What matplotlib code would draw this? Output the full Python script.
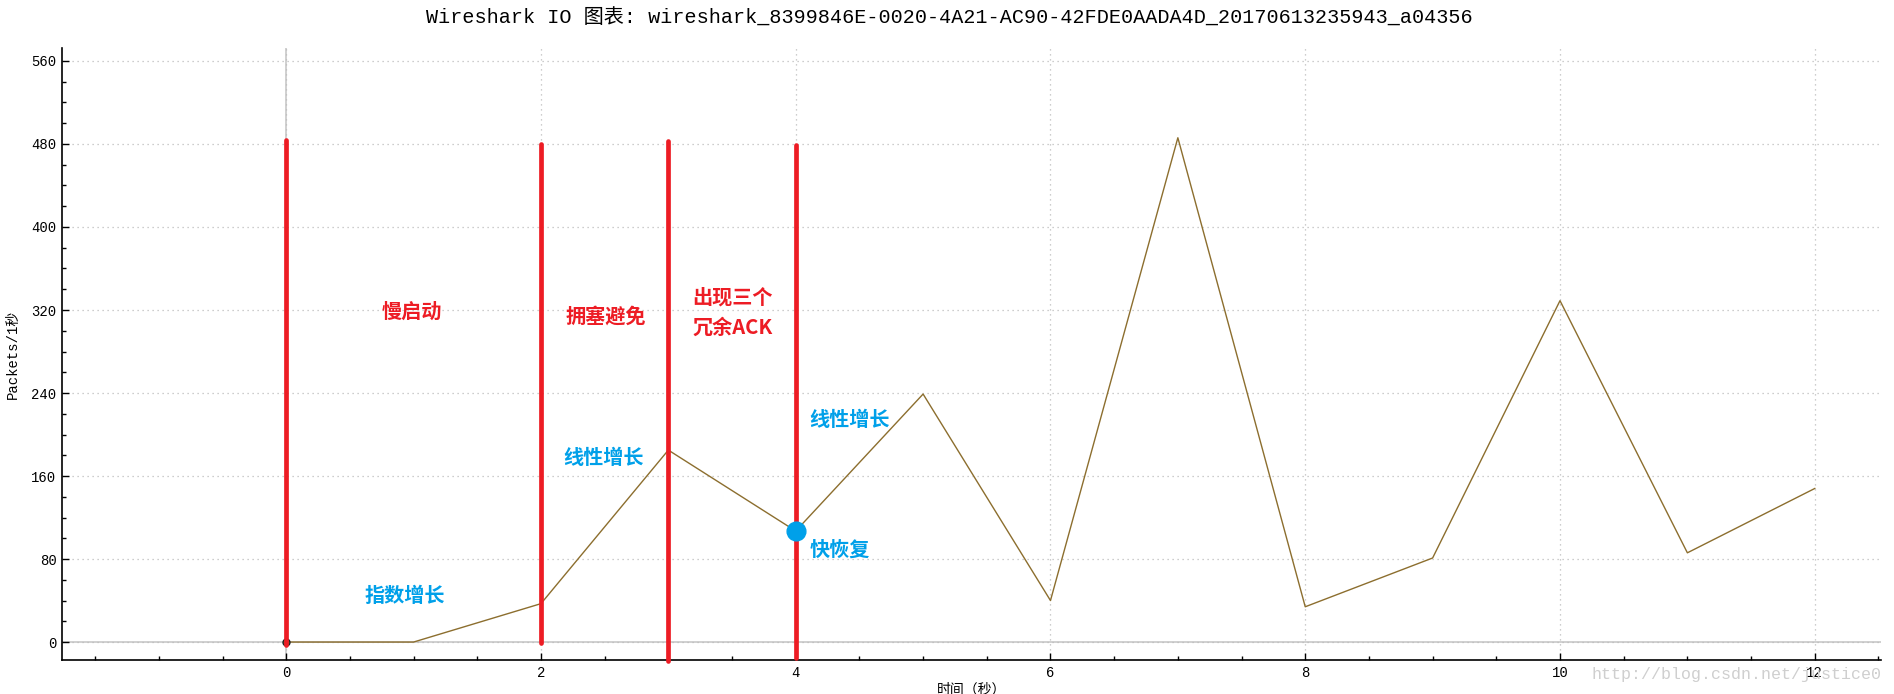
import matplotlib
matplotlib.use("Agg")
import matplotlib.pyplot as plt
from matplotlib.ticker import MultipleLocator

# 数据
seconds = [0, 1, 2, 3, 4, 5, 6, 7, 8, 9, 10, 11, 12]
packets = [0, 0, 37, 185, 107, 239, 40, 486, 34, 81, 329, 86, 148]

# 标注用的竖线 (x, 下端, 上端)
mark_x = [0, 2, 3, 4]
mark_lo = [-3, -1, -18, -15]
mark_hi = [484, 480, 483, 479]

red_labels = ["慢启动", "拥塞避免", "出现三个\n冗余ACK"]
red_pos = [(0.99, 319), (2.51, 314), (3.19, 318)]
blue_labels = ["指数增长", "线性增长", "线性增长", "快恢复"]
blue_pos = [(0.93, 45), (2.49, 178), (4.42, 214), (4.11, 89)]

title = "Wireshark IO 图表: wireshark_8399846E-0020-4A21-AC90-42FDE0AADA4D_20170613235943_a04356"

mono = ["Liberation Mono", "Noto Sans CJK SC"]
cjk = ["Noto Sans CJK SC", "DejaVu Sans"]
RED = "#ed1c24"
BLUE = "#00a0e9"

fig = plt.figure(figsize=(18.94, 6.94), dpi=100)
ax = fig.add_axes([62 / 1894, 1 - 660 / 694, (1881 - 62) / 1894, (660 - 48) / 694])

ax.set_xlim(-1.76, 12.52)
ax.set_ylim(-17.3, 572.5)
ax.xaxis.set_major_locator(MultipleLocator(2))
ax.xaxis.set_minor_locator(MultipleLocator(0.5))
ax.yaxis.set_major_locator(MultipleLocator(80))
ax.yaxis.set_minor_locator(MultipleLocator(20))
ax.tick_params(which="major", direction="in", length=5, width=1, labelsize=10, pad=4)
ax.tick_params(which="minor", direction="in", length=3, width=1)
for lab in ax.get_xticklabels() + ax.get_yticklabels():
    lab.set_family(mono)
for s in ["top", "right"]:
    ax.spines[s].set_visible(False)
ax.spines["left"].set_linewidth(1.2)
ax.spines["bottom"].set_linewidth(1.2)

# 网格
ax.grid(True, which="major", linestyle=(0, (1, 3)), color="#bdbdbd", linewidth=0.9)
ax.axhline(0, color="#c8c8c8", linewidth=1.2, zorder=1)
ax.axvline(0, color="#c8c8c8", linewidth=1.2, zorder=1)

# 曲线
ax.plot(seconds, packets, color="#8c6e2e", linewidth=1.0, zorder=3)
ax.plot(seconds[0], packets[0], "o", color="#8c6e2e", mec="#222222", ms=5, zorder=4)

# 红色竖线
for x, lo, hi in zip(mark_x, mark_lo, mark_hi):
    ax.plot([x, x], [lo, hi], color=RED, linewidth=3.4, solid_capstyle="round",
            zorder=5, clip_on=False)

# 快恢复点
ax.plot(4, packets[4], "o", color=BLUE, ms=13.5, zorder=6)

for t, (x, y) in zip(red_labels, red_pos):
    ha = "left" if "\n" in t else "center"
    ax.text(x, y, t, color=RED, fontsize=14.5, fontweight="bold", family=cjk,
            ha=ha, va="center", linespacing=1.55, zorder=7)
for i, (t, (x, y)) in enumerate(zip(blue_labels, blue_pos)):
    ha = "left" if t == "快恢复" else "center"
    ax.text(x, y, t, color=BLUE, fontsize=14.5, fontweight="bold", family=cjk,
            ha=ha, va="center", zorder=7)

ax.set_xlabel("时间（秒）", family=cjk, fontsize=10, labelpad=2)
ax.set_ylabel("Packets/1秒", family=mono, fontsize=10, labelpad=8)
fig.text(949 / 1894, 1 - 18 / 694, title, family=mono, fontsize=14.5,
         ha="center", va="center")

# 水印
fig.text(1881 / 1894, 1 - 674 / 694, "http://blog.csdn.net/justice0", family=mono,
         fontsize=12, color="#cfcfcf", ha="right", va="center")

fig.savefig("out.png", dpi=100)
